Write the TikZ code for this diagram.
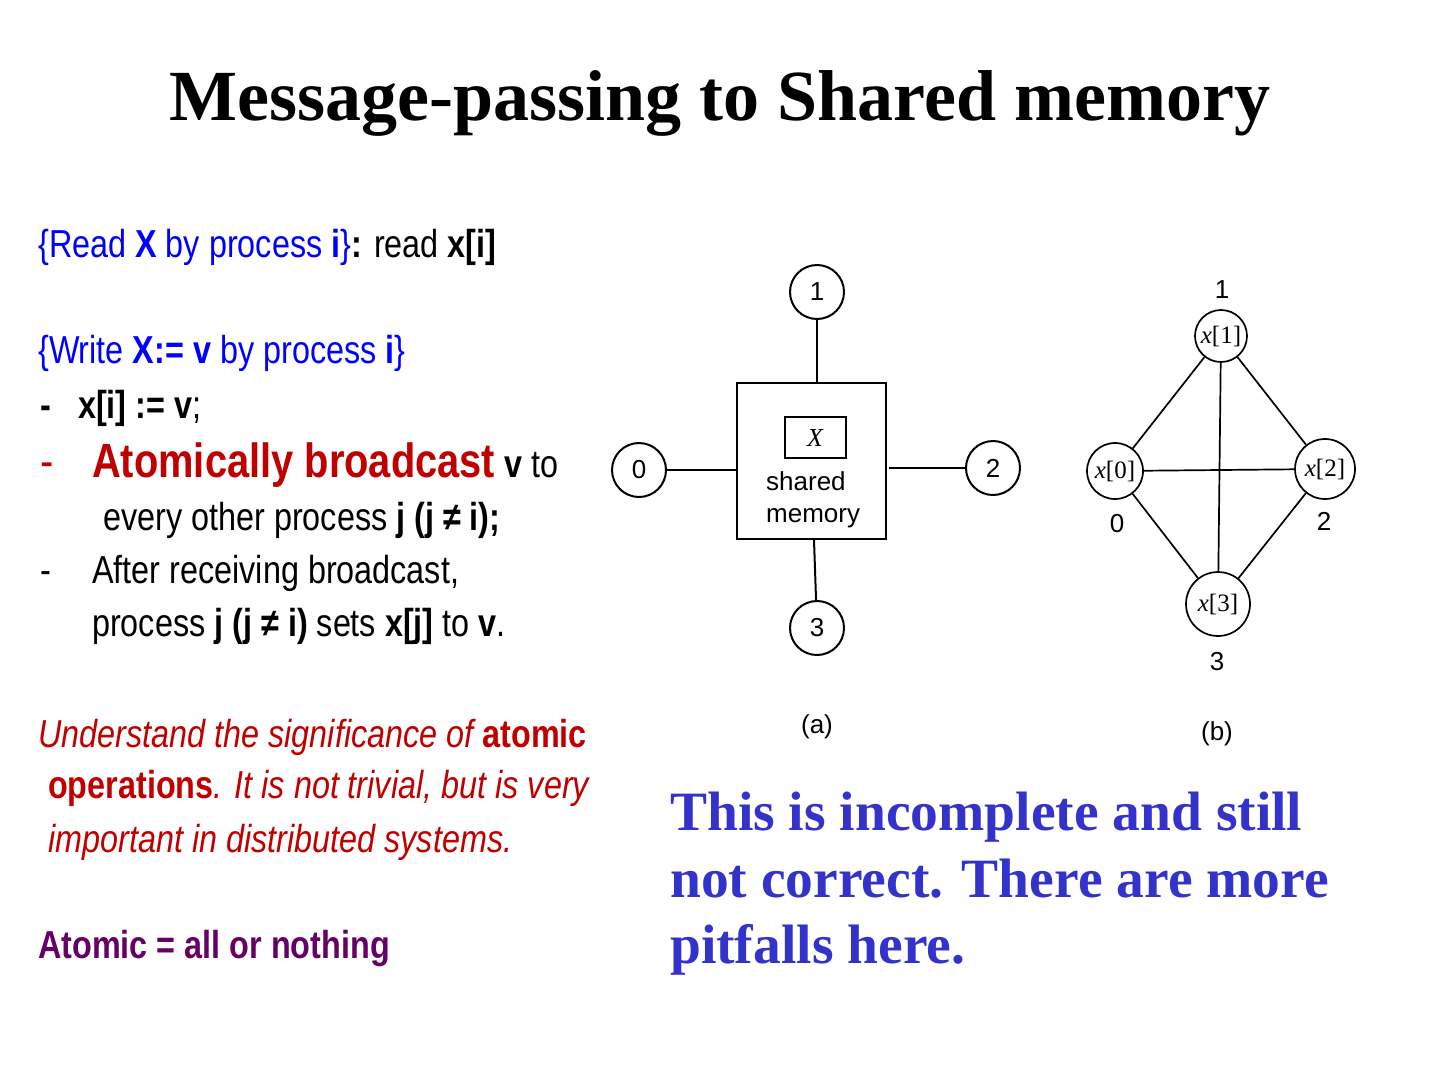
\documentclass[tikz,border=0pt]{standalone}
\usepackage{fontspec}
\setmainfont{Liberation Serif}
\newfontfamily\narrowsans[FakeStretch=0.83]{Liberation Sans}
\newfontfamily\plainsans{Liberation Sans}
\usepackage{tikz}
\usetikzlibrary{positioning}

\definecolor{slideblue}{RGB}{0,0,255}
\definecolor{slidered}{RGB}{192,0,0}
\definecolor{slidepurple}{RGB}{102,0,102}
\definecolor{noteblue}{RGB}{51,51,204}

\newcommand{\bodysize}{\narrowsans\fontsize{39}{44}\selectfont}
\newcommand{\figsize}{\plainsans\fontsize{26}{28}\selectfont}

\begin{document}
\begin{tikzpicture}[x=1pt,y=-1pt,
	txt/.style={anchor=base west,inner sep=0pt,font=\bodysize},
	note/.style={anchor=base west,inner sep=0pt,noteblue,font=\bfseries\fontsize{55.5}{60}\selectfont},
	proc/.style={draw,circle,line width=2pt,inner sep=0pt,minimum size=54pt,font=\figsize},
	reg/.style={draw,circle,line width=1.7pt,inner sep=0pt,font=\fontsize{25}{25}\selectfont},
	lbl/.style={anchor=base,inner sep=0pt,font=\figsize},
	link/.style={line width=2pt},
	edge/.style={line width=1.7pt}]
	\fill[white] (0,0) rectangle (1440,1080);
	\useasboundingbox (0,0) rectangle (1440,1080);
	
	\node[anchor=base,inner sep=0pt,font=\bfseries\fontsize{72}{72}\selectfont] (title) at (720,120) {Message-passing to Shared memory};
	
	\node[txt] (read) at (38,257) {\color{slideblue}\{Read \textbf{X} by process \textbf{i}\}\color{black}\textbf{:} read \textbf{x[i]}};
	\node[txt] (write) at (38,363) {\color{slideblue}\{Write \textbf{X:= v} by process \textbf{i}\}};
	\node[txt] (dasha) at (40,418) {\textbf{-}};
	\node[txt] (assign) at (78,418) {\textbf{x[i] := v};};
	\node[txt,slidered,font=\narrowsans\fontsize{48}{52}\selectfont] (dashb) at (40,477) {-};
	\node[txt] (bcast) at (92,477) {{\color{slidered}\fontsize{48}{52}\selectfont\textbf{Atomically broadcast}} \textbf{v} to};
	\node[txt] (every) at (103,530) {every other process \textbf{j (j ≠ i);}};
	\node[txt] (dashc) at (40,583) {-};
	\node[txt] (after) at (92,583) {After receiving broadcast,};
	\node[txt] (sets) at (92,636) {process \textbf{j (j ≠ i)} sets \textbf{x[j]} to \textbf{v}.};
	
	\node[txt,slidered] (under) at (38,747) {\itshape Understand the significance of \textbf{\upshape atomic}};
	\node[txt,slidered] (oper) at (48,798) {\textbf{operations}\textit{. It is not trivial, but is very}};
	\node[txt,slidered] (impt) at (48,852) {\textit{important in distributed systems.}};
	\node[txt,slidepurple] (atomic) at (38,958) {\textbf{Atomic = all or nothing}};
	
	\node[note] (notea) at (670,830) {This is incomplete and still};
	\node[note] (noteb) at (670,897) {not correct. There are more};
	\node[note] (notec) at (670,963) {pitfalls here.};
	
	% (a)
	\node[draw,line width=2pt,minimum width=149pt,minimum height=156pt] (mem) at (811.5,461) {};
	\node[draw,line width=1.7pt,inner sep=0pt,minimum width=61pt,minimum height=41pt,font=\fontsize{26}{26}\selectfont] (xbox) at (815.5,437.5) {\textit{X}};
	\node[anchor=base west,inner sep=0pt,font=\figsize] (shared) at (766,490) {shared};
	\node[anchor=base west,inner sep=0pt,font=\figsize] (memtxt) at (766,522) {memory};
	\node[proc] (p1) at (817,292) {1};
	\node[proc] (p0) at (639,470) {0};
	\node[proc] (p2) at (993,468) {2};
	\node[proc] (p3) at (817,628) {3};
	\draw[link] (p1) -- (p1 |- mem.north);
	\draw[link] (p0) -- (p0 -| mem.west);
	\draw[link] (p2) -- ([xshift=2pt]p2 -| mem.east);
	\draw[link] (p3) -- ([xshift=2.5pt]mem.south);
	\node[lbl] (capa) at (817,733) {(a)};
	
	% (b)
	\node[reg,minimum size=52pt] (x1) at (1221,336) {\textit{x}[1]};
	\node[reg,minimum size=56pt] (x0) at (1115,471) {\textit{x}[0]};
	\node[reg,minimum size=60pt] (x2) at (1325,469) {\textit{x}[2]};
	\node[reg,minimum size=64pt] (x3) at (1218,604) {\textit{x}[3]};
	\foreach \a/\b in {x1/x0,x1/x2,x1/x3,x0/x2,x0/x3,x2/x3}
		\draw[edge] (\a) -- (\b);
	\node[lbl] (la) at (1222,298) {1};
	\node[lbl] (lb) at (1117,532) {0};
	\node[lbl] (lc) at (1324,530) {2};
	\node[lbl] (ld) at (1217,670) {3};
	\node[lbl] (capb) at (1217,740) {(b)};
\end{tikzpicture}
\end{document}
